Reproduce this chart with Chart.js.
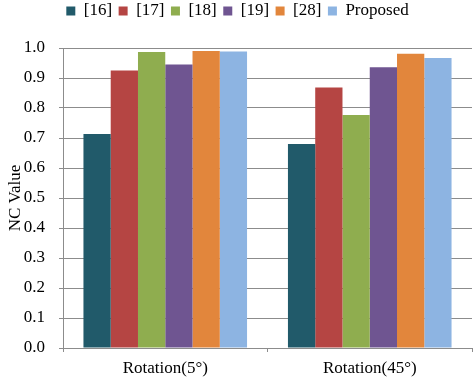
<!DOCTYPE html>
<html><head><meta charset="utf-8">
<script src="https://cdn.jsdelivr.net/npm/chart.js@4/dist/chart.umd.min.js"></script>
<style>html,body{margin:0;padding:0;background:#fff}#w{width:474px;height:379px}</style>
</head><body><div id="w"><canvas id="c"></canvas></div>
<script>
const categories = ["Rotation(5°)", "Rotation(45°)"];
const seriesNames = ["[16]", "[17]", "[18]", "[19]", "[28]", "Proposed"];
const s16 = [0.713, 0.680];
const s17 = [0.925, 0.868];
const s18 = [0.987, 0.777];
const s19 = [0.945, 0.936];
const s28 = [0.990, 0.981];
const sProposed = [0.988, 0.967];
const yTicks = [0.0, 0.1, 0.2, 0.3, 0.4, 0.5, 0.6, 0.7, 0.8, 0.9, 1.0];
const colors = ["#215a6a", "#b54543", "#8fad4f", "#6f5591", "#e2863c", "#8db4e2"];

const seriesValues = [s16, s17, s18, s19, s28, sProposed];
const font = {family: "'Liberation Serif', 'Times New Roman', serif", size: 17};
Chart.defaults.font = font;
Chart.defaults.color = "#000";

const legendFix = {
  id: "legendFix",
  afterInit(chart) {
    const lg = chart.legend;
    const orig = lg.fit;
    lg.fit = function () { orig.call(this); this.height = 48; };
  },
  afterLayout(chart) { chart.legend.top = -4; }
};

new Chart(document.getElementById("c"), {
  type: "bar",
  data: {
    labels: categories,
    datasets: seriesNames.map((n, i) => ({
      label: n, data: seriesValues[i], backgroundColor: colors[i],
      borderWidth: 0, categoryPercentage: 0.8, barPercentage: 1.0
    }))
  },
  options: {
    responsive: true, maintainAspectRatio: false, animation: false,
    layout: {padding: {left: 3, right: 2, top: 0, bottom: 0}},
    plugins: {
      legend: {position: "top", labels: {boxWidth: 9, boxHeight: 9, padding: 6.5, font: font, color: "#000"}},
      tooltip: {enabled: false}
    },
    scales: {
      x: {
        afterFit: s => { s.height = 31; },
        grid: {display: true, drawOnChartArea: false, offset: true, color: "#8c8c8c", tickLength: 4},
        border: {color: "#8c8c8c"},
        ticks: {font: font, color: "#000", padding: 6}
      },
      y: {
        min: 0, max: 1.0,
        afterFit: s => { s.width = 60; },
        afterBuildTicks: s => { s.ticks = yTicks.map(v => ({value: v})); },
        grid: {color: "#8c8c8c", tickLength: 4, lineWidth: 1},
        border: {color: "#8c8c8c"},
        ticks: {font: font, color: "#000", padding: 14, callback: v => Number(v).toFixed(1)},
        title: {display: true, text: "NC Value", font: font, color: "#000", padding: {top: 2, bottom: 0}}
      }
    }
  },
  plugins: [legendFix]
});
</script></body></html>
